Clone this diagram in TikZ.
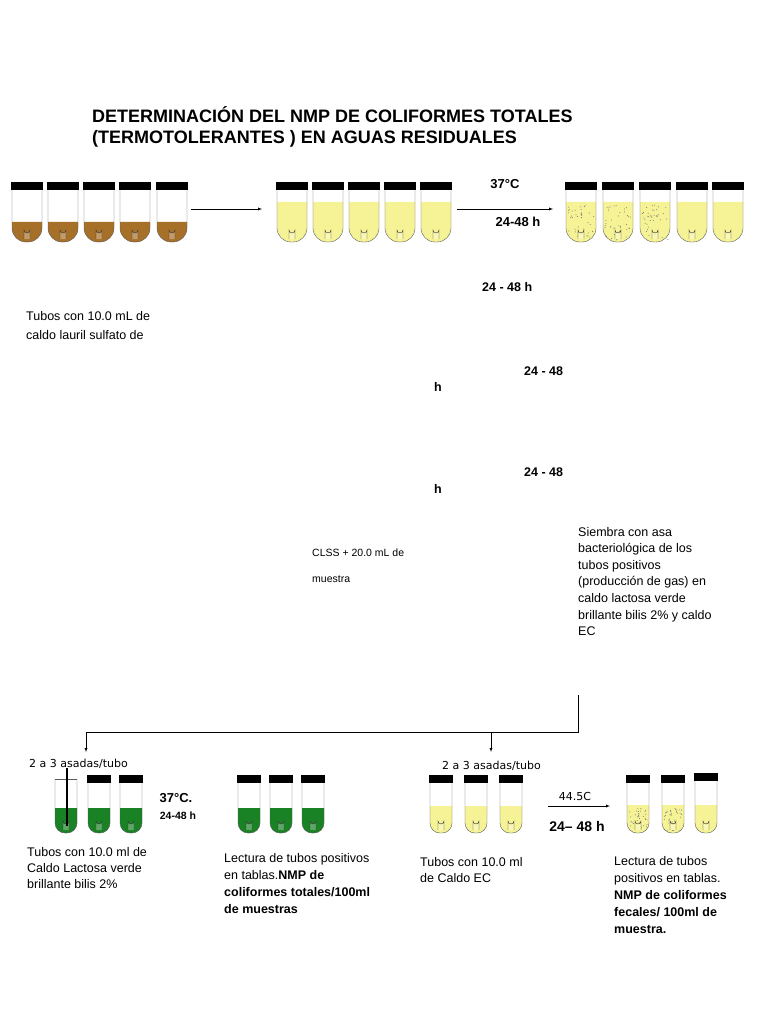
\documentclass[tikz,border=0pt]{standalone}
\usepackage{fontspec}
\setmainfont{Liberation Sans}
\newfontfamily\asfont{DejaVu Sans}
\begin{document}
\begin{tikzpicture}[x=1pt,y=-1pt,
  lbl/.style={anchor=base west,inner sep=0,font=\fontsize{12.5}{14}\selectfont},
  blbl/.style={lbl,font=\fontsize{12.5}{14}\selectfont\bfseries},
  arr/.style={-latex,thin}]
\useasboundingbox[fill=white] (0,0) rectangle (768,1024);
\definecolor{brown1}{RGB}{166,112,40}
\definecolor{yel}{RGB}{246,243,150}
\definecolor{grn}{RGB}{24,130,36}
% #1 x, #2 top, #3 w, #4 bottom, #5 level, #6 color, #7 cap(1/0), #8 bubbles(1/0)
\newcommand\tubo[8]{%
  \pgfmathsetmacro\xr{#1+#3}\pgfmathsetmacro\xm{#1+#3/2}%
  \pgfmathsetmacro\rr{#3/2-1}%
  \fill[#6] (#1,#5) [rounded corners=\rr pt] -- (#1,#4) -- (\xr,#4) [sharp corners] -- (\xr,#5) -- cycle;
  \ifnum#8=1
    \pgfmathsetseed{#1}
    \foreach \i in {1,...,40}{\pgfmathsetmacro\bx{#1+2+rnd*(#3-4)}\pgfmathsetmacro\by{#5+3+rnd*(#4-#5-5)}\fill[black!55] (\bx,\by) circle (0.5);}
  \fi
  \draw[gray!70!black,thin] (#1,#2) [rounded corners=\rr pt] -- (#1,#4) -- (\xr,#4) [sharp corners] -- (\xr,#2);
  \draw[black!80,thin,fill=white!30!#6] (\xm-3,#4-3) -- (\xm-3,#4-12) arc[start angle=180,end angle=0,radius=3] -- (\xm+3,#4-3);
  \ifnum#7=1 \fill[black] (#1-1,#2-8) rectangle (\xr+1,#2); \fi
}
% title
\node[anchor=base west,inner sep=0,font=\fontsize{18}{19}\selectfont\bfseries] (t1) at (92,123) {DETERMINACIÓN DEL NMP DE COLIFORMES TOTALES};
\node[anchor=base west,inner sep=0,font=\fontsize{18}{19}\selectfont\bfseries] (t2) at (92,144) {(TERMOTOLERANTES ) EN AGUAS RESIDUALES};
% top tubes
\foreach \x in {12,48,84,120,157}{\tubo{\x}{190}{30}{242}{222}{brown1}{1}{0}}
\foreach \x in {277,313,349,385,421}{\tubo{\x}{190}{30}{242}{202}{yel}{1}{0}}
\foreach \x in {566,603,640}{\tubo{\x}{190}{30}{242}{202}{yel}{1}{1}}
\foreach \x in {677,713}{\tubo{\x}{190}{30}{242}{202}{yel}{1}{0}}
\coordinate (a1) at (191,209); \coordinate (a2) at (262,209);
\draw[arr] (a1) -- (a2);
\coordinate (b1) at (457,209); \coordinate (b2) at (553,209);
\draw[arr] (b1) -- (b2);
\node[anchor=base,inner sep=0,font=\fontsize{13}{14}\selectfont\bfseries] (c37) at (505,189) {37°C};
\node[anchor=base,inner sep=0,font=\fontsize{13}{14}\selectfont\bfseries] (h1) at (518,226) {24-48 h};
\node[blbl] (h2) at (482,291) {24 - 48 h};
\node[lbl] (l1) at (26,320) {Tubos con 10.0 mL de};
\node[lbl] (l2) at (26,339) {caldo lauril sulfato de};
\node[blbl] (h3) at (524,375) {24 - 48};
\node[blbl] (h3b) at (434,391) {h};
\node[blbl] (h4) at (524,476) {24 - 48};
\node[blbl] (h4b) at (434,493) {h};
\node[lbl,font=\fontsize{10.5}{12}\selectfont] (cl1) at (312,556) {CLSS + 20.0 mL de};
\node[lbl,font=\fontsize{10.5}{12}\selectfont] (cl2) at (312,582) {muestra};
\foreach \t [count=\i] in {Siembra con asa,bacteriológica de los,tubos positivos,(producción de gas) en,caldo lactosa verde,brillante bilis 2\% y caldo,EC}
  \node[lbl] at (578,536+16.6*\i-16.6) {\t};
% connector
\coordinate (s0) at (578,695); \coordinate (s1) at (578,732);
\coordinate (s2) at (86,732); \coordinate (s3) at (86,752);
\coordinate (s4) at (491,732); \coordinate (s5) at (491,752);
\draw[thin] (s0) -- (s1) -- (s2);
\draw[-latex] (s2) -- (s3);
\draw[-latex] (s4) -- (s5);
\node[anchor=base west,inner sep=0,font=\asfont\fontsize{11}{12}\selectfont] (as1) at (29,767) {2 a 3 asadas/tubo};
\node[anchor=base west,inner sep=0,font=\asfont\fontsize{11}{12}\selectfont] (as2) at (442,769) {2 a 3 asadas/tubo};
% green tubes
\tubo{55}{779}{22}{833}{808}{grn}{0}{0}
\draw[gray!70!black,thin] (55,779) -- (77,779);
\foreach \x in {88,120}{\tubo{\x}{783}{22}{833}{808}{grn}{1}{0}}
\coordinate (lp1) at (67,768); \coordinate (lp2) at (67,826);
\draw[line width=1.3pt] (lp1) -- (lp2);
\node[anchor=base,inner sep=0,font=\fontsize{13}{14}\selectfont\bfseries] (c37b) at (176,802) {37°C.};
\node[anchor=base,inner sep=0,font=\fontsize{10.5}{12}\selectfont\bfseries] (h5) at (178,819) {24-48 h};
\foreach \x in {238,270,302}{\tubo{\x}{783}{22}{833}{808}{grn}{1}{0}}
% EC tubes
\foreach \x in {430,465,500}{\tubo{\x}{783}{22}{833}{806}{yel}{1}{0}}
\coordinate (e1) at (548,806); \coordinate (e2) at (610,806);
\draw[arr] (e1) -- (e2);
\node[anchor=base,inner sep=0,font=\asfont\fontsize{11}{12}\selectfont] (c44) at (575,800) {44.5C};
\node[anchor=base,inner sep=0,font=\fontsize{14}{15}\selectfont\bfseries] (h6) at (577,831) {24– 48 h};
\foreach \x in {627,662}{\tubo{\x}{783}{22}{833}{805}{yel}{1}{1}}
\tubo{695}{781}{22}{833}{805}{yel}{1}{0}
% bottom texts
\node[lbl] at (27,856) {Tubos con 10.0 ml de};
\node[lbl] at (27,872) {Caldo Lactosa verde};
\node[lbl] at (27,888) {brillante bilis 2\%};
\node[lbl] at (224,862) {Lectura de tubos positivos};
\node[lbl] at (224,879) {en tablas.\textbf{NMP de}};
\node[blbl] at (224,896) {coliformes totales/100ml};
\node[blbl] at (224,913) {de muestras};
\node[lbl] at (420,866) {Tubos con 10.0 ml};
\node[lbl] at (420,882) {de Caldo EC};
\node[lbl] at (614,865) {Lectura de tubos};
\node[lbl] at (614,882) {positivos en tablas.};
\node[blbl] at (614,899) {NMP de coliformes};
\node[blbl] at (614,916) {fecales/ 100ml de};
\node[blbl] at (614,933) {muestra.};
\end{tikzpicture}
\end{document}
